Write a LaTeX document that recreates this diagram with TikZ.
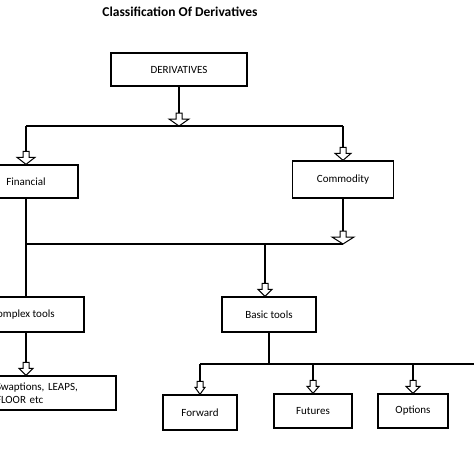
\documentclass[tikz,border=0pt]{standalone}
\usepackage{fontspec}
\setmainfont{Carlito}
\usetikzlibrary{positioning}

\begin{document}
\begin{tikzpicture}[x=1pt,y=-1pt,
        box/.style={draw, line width=1.3pt, minimum width=#1, inner sep=0pt, font=\fontsize{11}{13}\selectfont},
        bus/.style={line width=1.3pt},
        hollowhead/.pic={
            \draw[line width=1pt, fill=white] (-3,-13) -- (-3,-7) -- (-#1,-7) -- (0,0) -- (#1,-7) -- (3,-7) -- (3,-13) -- cycle;
        }]
        \useasboundingbox (0,0) rectangle (474,474);
        \clip (0,0) rectangle (474,474);

        % title
        \node[font=\fontsize{13.5}{15}\selectfont\bfseries] (title) at (180,12) {Classification Of Derivatives};

        % the boxes
        \node[box=136pt, minimum height=33pt] (deriv) at (179,69.5) {DERIVATIVES};
        \node[box=104pt, minimum height=33pt] (fin) at (26,181.5) {Financial};
        \node[box=101pt, minimum height=37pt] (comm) at (343,179.5) {Commodity};
        \node[box=122pt, minimum height=35pt] (cplx) at (23,314.5) {Complex tools};
        \node[box=130pt, minimum height=34pt, text width=110pt, align=left, inner xsep=10pt,
              font=\fontsize{11}{13.5}\selectfont] (swap) at (51,393) {Swaptions, LEAPS,\\FLOOR etc};
        \node[box=94pt, minimum height=35pt] (basic) at (269,314.5) {Basic tools};
        \node[box=74pt, minimum height=35pt] (fwd) at (200,412.5) {Forward};
        \node[box=78pt, minimum height=34pt] (fut) at (313,411) {Futures};
        \node[box=70pt, minimum height=34pt] (opt) at (413,411) {Options};

        % first level
        \coordinate (top) at (deriv.south |- 0,126);
        \draw[bus] (deriv.south) -- (top) pic {hollowhead=10};
        \draw[bus] (fin.north |- top) -- (comm.north |- top);
        \draw[bus] (fin.north |- top) -- (fin.north) pic {hollowhead=9};
        \draw[bus] (comm.north |- top) -- (comm.north) pic {hollowhead=8};

        % second level
        \coordinate (mid) at (comm.south |- 0,244);
        \draw[bus] (fin.south |- mid) -- (mid);
        \draw[bus] (comm.south) -- (mid) pic {hollowhead=11};
        \draw[bus] (fin.south) -- (fin.south |- cplx.north);
        \coordinate (midb) at (265,244);
        \draw[bus] (midb) -- (midb |- basic.north) pic {hollowhead=7};

        % complex tools
        \draw[bus] (fin.south |- cplx.south) -- (fin.south |- swap.north) pic {hollowhead=7};

        % basic tools
        \coordinate (low) at (basic.south |- 0,364);
        \coordinate (lowend) at (474,364);
        \draw[bus] (basic.south) -- (low);
        \draw[bus] (fwd.north |- low) -- (lowend);
        \draw[bus] (fwd.north |- low) -- (fwd.north) pic {hollowhead=5};
        \draw[bus] (fut.north |- low) -- (fut.north) pic {hollowhead=6};
        \draw[bus] (opt.north |- low) -- (opt.north) pic {hollowhead=7};
\end{tikzpicture}
\end{document}
